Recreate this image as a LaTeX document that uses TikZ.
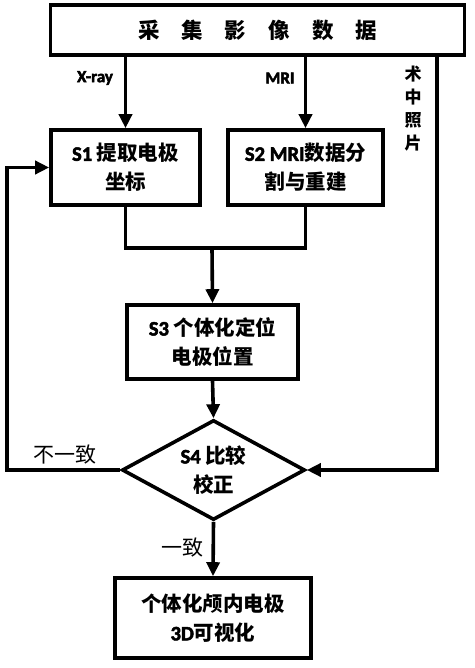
\documentclass[tikz,border=0pt]{standalone}
\usepackage{fontspec}
\newfontfamily\cjk{Noto Sans CJK SC}
\newfontfamily\latf{Carlito}[FakeBold=2.5]
\usetikzlibrary{arrows.meta,shapes.geometric}
\newcommand{\lat}[1]{{\latf\bfseries #1}}
\begin{document}
\begin{tikzpicture}[x=1pt,y=-1pt,
  line width=3.6pt, line join=miter,
  box/.style={draw, rectangle, inner sep=0pt, align=center,
     font=\cjk\bfseries\fontsize{20.5}{29}\selectfont},
  arr/.style={-{Triangle[length=14pt,width=13pt]}},
  lbl/.style={inner sep=0pt, font=\cjk\fontsize{21}{24}\selectfont},
  slbl/.style={inner sep=0pt, font=\latf\bfseries\fontsize{17}{20}\selectfont}]
\useasboundingbox (0,0) rectangle (474,668);
\node[box, minimum width=414pt, minimum height=50pt, font=\cjk\bfseries\fontsize{21.5}{29}\selectfont] (top) at (257.5,30)
  {\raisebox{-3pt}{采\hspace{22pt}集\hspace{22pt}影\hspace{22pt}像\hspace{22pt}数\hspace{22pt}据}};
\node[box, minimum width=149pt, minimum height=75pt] (s1) at (125.5,167.5)
  {\lat{S1} 提取电极\\坐标};
\node[box, minimum width=155pt, minimum height=75pt] (s2) at (305.5,167.5)
  {\lat{S2 MRI}数据分\\割与重建};
\node[box, minimum width=171pt, minimum height=74pt] (s3) at (212.5,342)
  {\lat{S3} 个体化定位\\电极位置};
\node[draw, diamond, inner sep=0pt, minimum width=183pt, minimum height=100pt] (d) at (213.5,470) {};
\node[box, draw=none] (dt) at (d.center) {\lat{S4} 比较\\校正};
\node[box, minimum width=196pt, minimum height=80pt] (s5) at (213,618)
  {个体化颅内电极\\\lat{3D}可视化};
\coordinate (rc) at (437,0);
\coordinate (fl) at (7,0);
\coordinate (m) at (212,248);
\draw[arr] (top.south -| s1.north) -- (s1.north);
\draw[arr] (top.south -| s2.north) -- (s2.north);
\draw[arr] (top.south -| rc) |- (d.east);
\draw (s1.south) |- (m) -| (s2.south);
\draw[arr] (m) -- (s3.north);
\draw[arr] (s3.south) -- (d.north);
\draw[arr] (d.west) -- (d.west -| fl) |- (s1.west);
\draw[arr] (d.south) -- (s5.north);
\node[slbl] (xr) at (95,78) {X-ray};
\node[slbl] (mri) at (280,78) {MRI};
\node[lbl, font=\cjk\bfseries\fontsize{17}{23}\selectfont, align=center] (op) at (413,109) {术\\中\\照\\片};
\node[lbl] (nc) at (65,455) {不一致};
\node[lbl] (ok) at (182,548) {一致};
\end{tikzpicture}
\end{document}
